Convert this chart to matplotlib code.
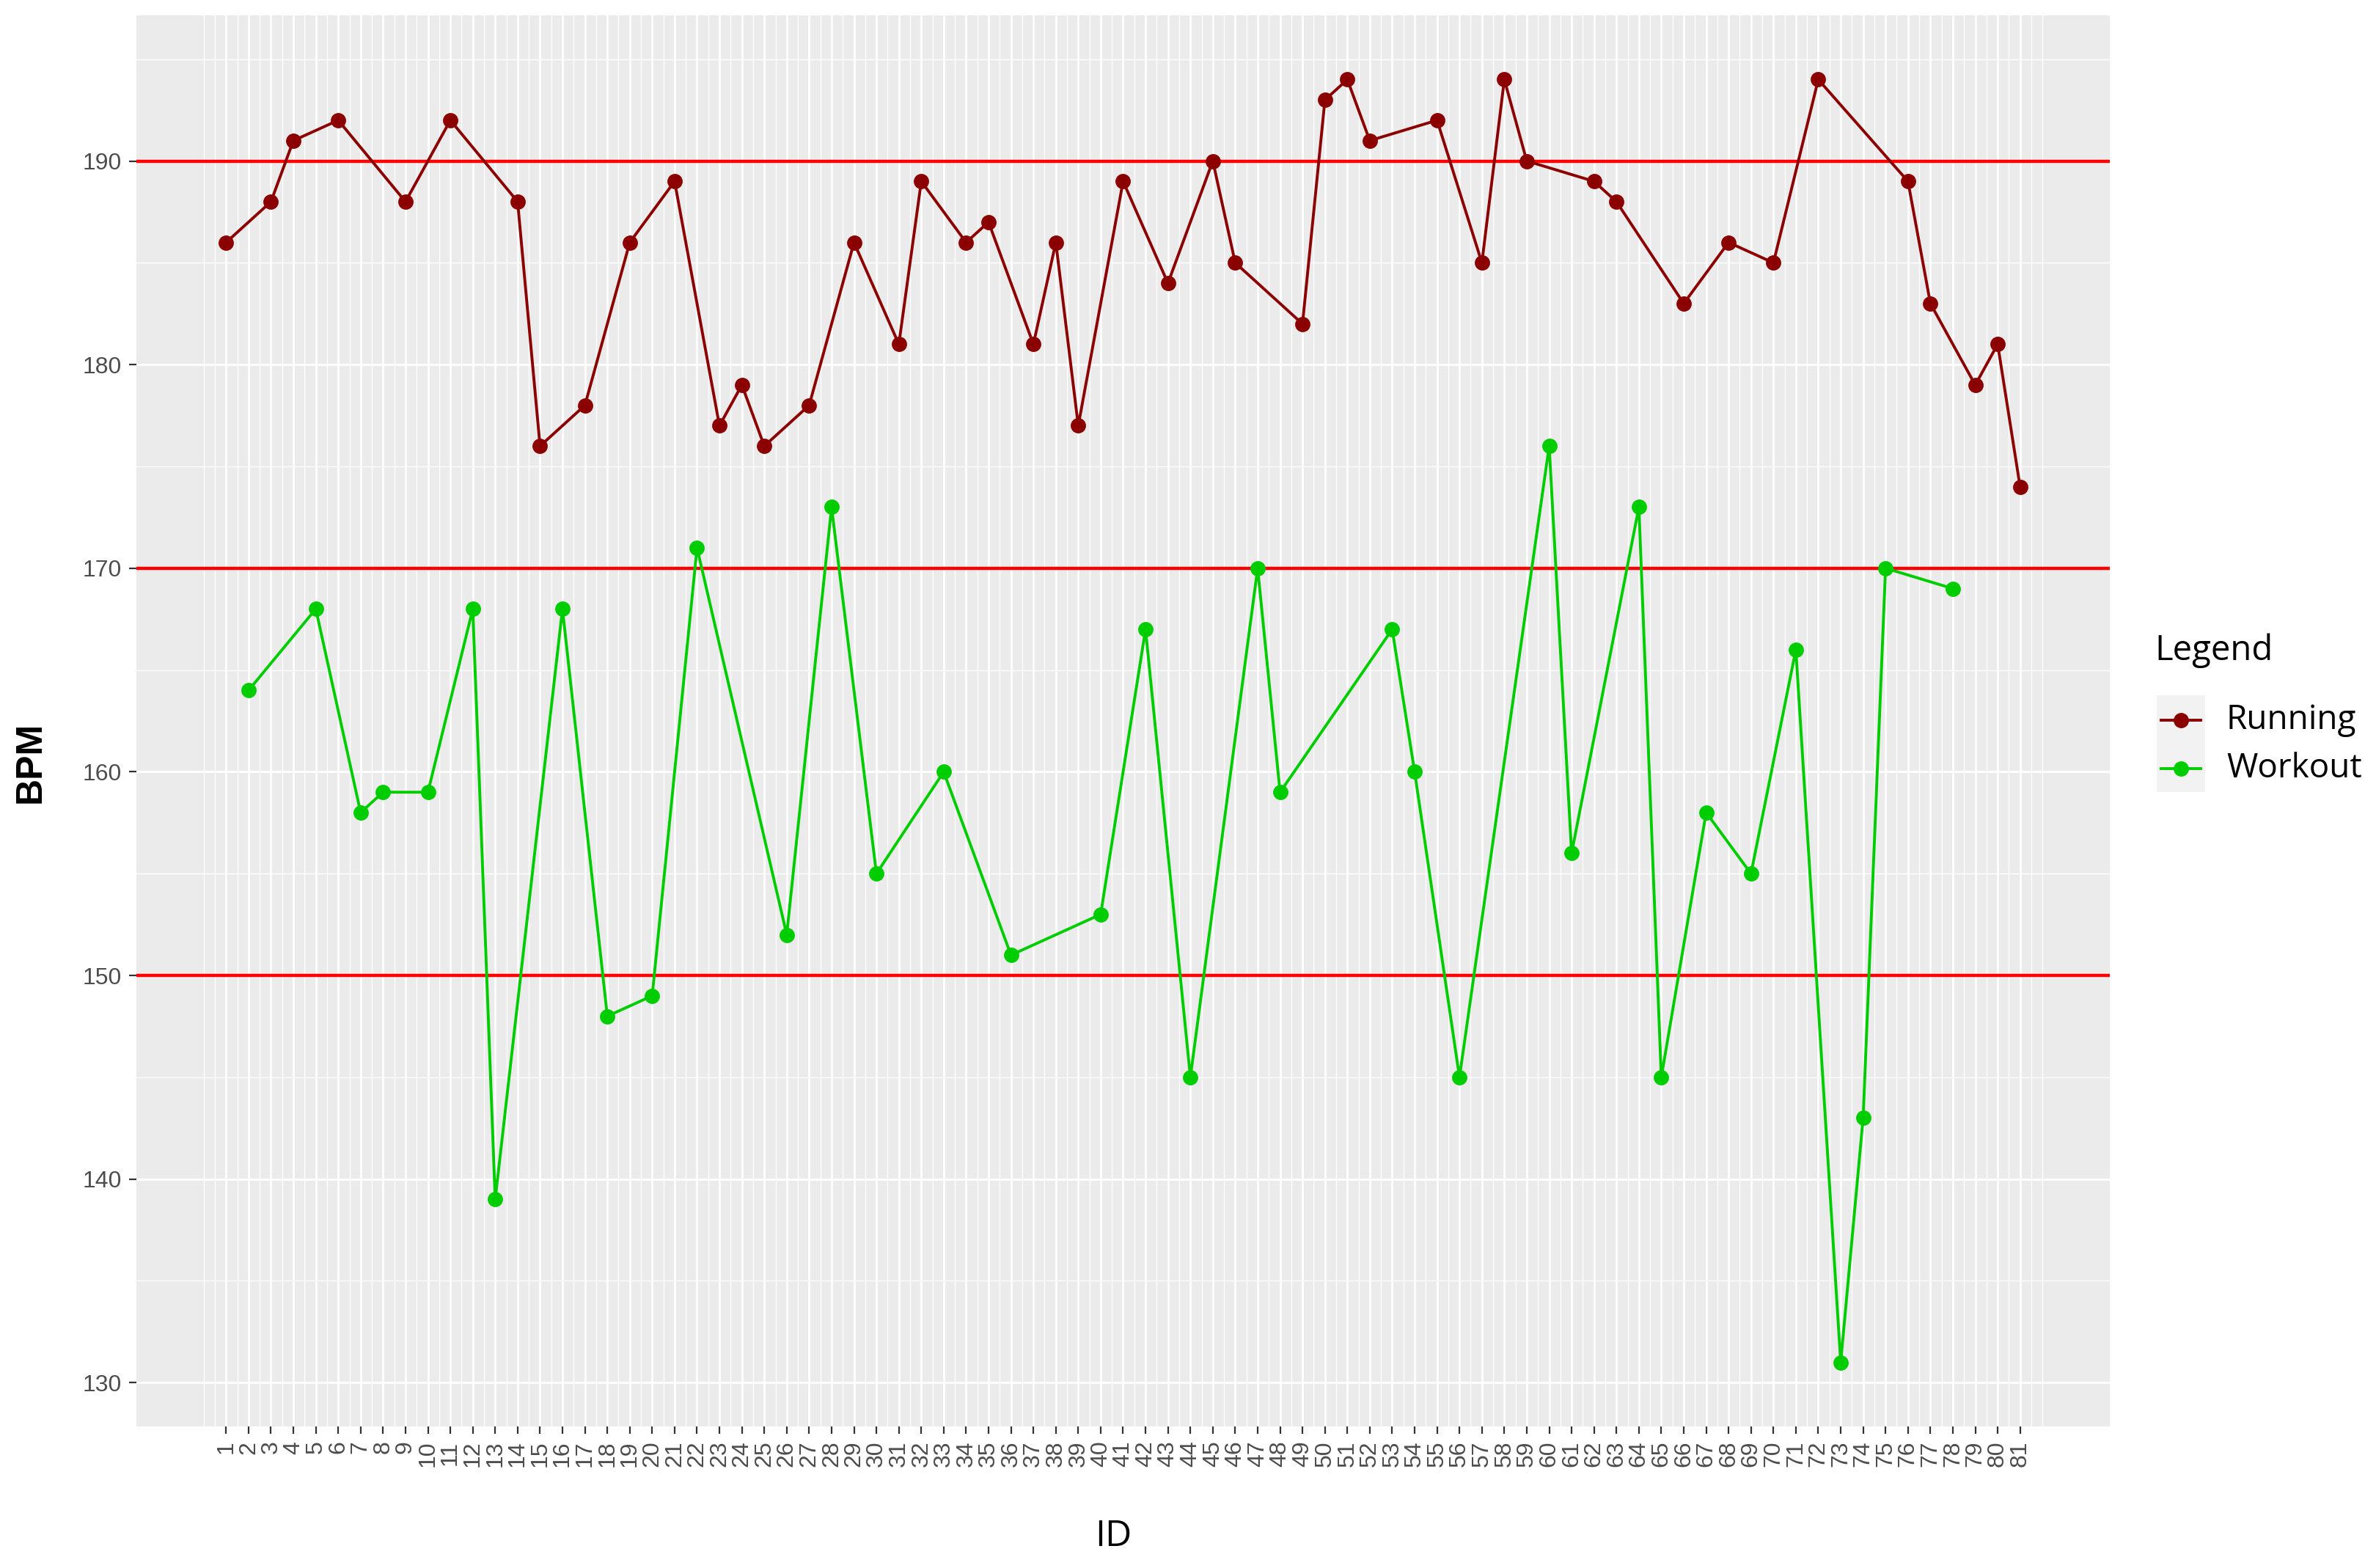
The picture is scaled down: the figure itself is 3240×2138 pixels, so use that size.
import numpy as np
import matplotlib.pyplot as plt
from matplotlib.lines import Line2D
from matplotlib.patches import Rectangle

# Running sessions: ID and heart rate
run_id = [1, 3, 4, 6, 9, 11, 14, 15, 17, 19,
          21, 23, 24, 25, 27, 29, 31, 32, 34, 35,
          37, 38, 39, 41, 43, 45, 46, 49, 50, 51,
          52, 55, 57, 58, 59, 62, 63, 66, 68, 70,
          72, 76, 77, 79, 80, 81]
run_bpm = [186, 188, 191, 192, 188, 192, 188, 176, 178, 186,
           189, 177, 179, 176, 178, 186, 181, 189, 186, 187,
           181, 186, 177, 189, 184, 190, 185, 182, 193, 194,
           191, 192, 185, 194, 190, 189, 188, 183, 186, 185,
           194, 189, 183, 179, 181, 174]

# Workout sessions
work_id = [2, 5, 7, 8, 10, 12, 13, 16, 18, 20,
           22, 26, 28, 30, 33, 36, 40, 42, 44, 47,
           48, 53, 54, 56, 60, 61, 64, 65, 67, 69,
           71, 73, 74, 75, 78]
work_bpm = [164, 168, 158, 159, 159, 168, 139, 168, 148, 149,
            171, 152, 173, 155, 160, 151, 153, 167, 145, 170,
            159, 167, 160, 145, 176, 156, 173, 145, 158, 155,
            166, 131, 143, 170, 169]

ref_lines = [150, 170, 190]
id_ticks = list(range(1, 82))
bpm_ticks = [130, 140, 150, 160, 170, 180, 190]

col_run = '#8B0000'
col_work = '#00CD00'

W, H = 3241, 2138
fig = plt.figure(figsize=(W / 200, H / 200), dpi=200)
ax = fig.add_axes([186 / W, 1 - 1945 / H, (2877 - 186) / W, (1945 - 21) / H])
ax.set_facecolor('#EBEBEB')
for s in ax.spines.values():
    s.set_visible(False)

ax.set_xlim(-3, 85)
ax.set_ylim(127.85, 197.15)

ax.set_xticks(id_ticks)
ax.set_xticklabels([str(i) for i in id_ticks], rotation=90,
                   fontsize=11.5, color='#4D4D4D', family='Liberation Sans')
ax.set_xticks([0] + [i + 0.5 for i in range(0, 82)] + [82], minor=True)
ax.set_yticks(bpm_ticks)
ax.set_yticklabels([str(v) for v in bpm_ticks], fontsize=11.5,
                   color='#4D4D4D', family='Liberation Sans')
ax.set_yticks([135, 145, 155, 165, 175, 185, 195], minor=True)
ax.tick_params(which='major', length=3.6, width=0.8, color='#333333', pad=3.5)
ax.tick_params(which='minor', length=0)
ax.grid(which='major', color='white', linewidth=1.0)
ax.grid(which='minor', color='white', linewidth=0.5)
ax.set_axisbelow(True)

for v in ref_lines:
    ax.axhline(v, color='#FF0000', linewidth=1.6, zorder=2)

ax.plot(run_id, run_bpm, color=col_run, linewidth=1.4, marker='o',
        markersize=6.5, zorder=3)
ax.plot(work_id, work_bpm, color=col_work, linewidth=1.4, marker='o',
        markersize=6.5, zorder=3)

# axis titles
fig.text(42 / W, 1 - 1039 / H, 'BPM', rotation=90, ha='center', va='center',
         fontsize=18, fontweight='bold', family='Liberation Sans')
fig.text(1518 / W, 1 - 2095 / H, 'ID', ha='center', va='center',
         fontsize=18, family='Open Sans')

# legend
fig.text(2938 / W, 1 - 887 / H, 'Legend', ha='left', va='center',
         fontsize=17, family='Open Sans')
fig.patches.append(Rectangle((2941 / W, 1 - 1080 / H), 66 / W, 132 / H,
                             transform=fig.transFigure, facecolor='#F2F2F2',
                             edgecolor='none'))
for yy, col, lab in [(982, col_run, 'Running'), (1048, col_work, 'Workout')]:
    fig.lines.append(Line2D([2947 / W, 2974 / W, 3001 / W], [1 - yy / H] * 3,
                            transform=fig.transFigure, color=col, linewidth=1.4,
                            marker='o', markersize=6.5, markevery=[1]))
    fig.text(3036 / W, 1 - yy / H, lab, ha='left', va='center',
             fontsize=16.5, family='Open Sans')

fig.savefig('out.png', dpi=200)
